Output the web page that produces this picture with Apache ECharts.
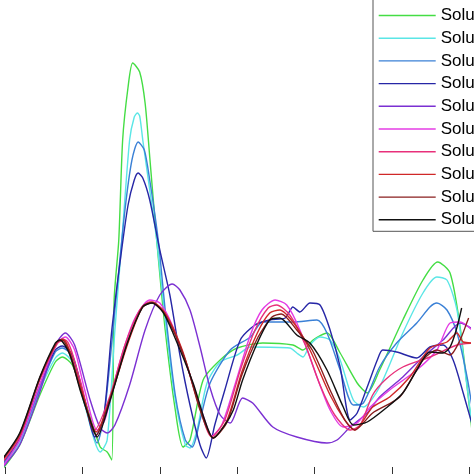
<!DOCTYPE html>
<html>
<head>
<meta charset="utf-8">
<script src="https://cdn.jsdelivr.net/npm/echarts@6/dist/echarts.min.js"></script>
<style>html,body{margin:0;padding:0;background:#fff}#c{width:474px;height:474px}</style>
</head>
<body>
<div id="c"></div>
<script>
const seriesNames = ["Solution 1","Solution 2","Solution 3","Solution 4","Solution 5","Solution 6","Solution 7","Solution 8","Solution 9","Solution 10"];
const seriesColors = ["#44dd44","#5ae6e6","#3a80d6","#2626a6","#7b30d2","#e43ce4","#e8307a","#d02828","#8a1e1e","#111111"];
const xTicks = [0,1,2,3,4,5,6];

const sol1 = [[-0.06,0.02],[0.19,0.29],[0.45,0.79],[0.65,1.12],[0.74,1.17],[0.87,1.09],[1.03,0.74],[1.23,0.27],[1.32,0.22],[1.38,0.14],[1.41,1.74],[1.47,2.34],[1.52,3.34],[1.59,3.87],[1.65,4.11],[1.74,4.02],[1.81,3.71],[1.87,3.17],[1.96,2.34],[2.07,1.44],[2.20,0.64],[2.30,0.27],[2.39,0.34],[2.56,0.94],[2.78,1.14],[3.00,1.26],[3.33,1.31],[3.72,1.29],[3.85,1.24],[3.98,1.34],[4.16,1.41],[4.33,1.21],[4.55,0.91],[4.68,0.81],[4.84,1.04],[5.14,1.54],[5.40,1.94],[5.59,2.12],[5.75,2.01],[5.88,1.47],[5.98,0.81],[6.06,0.24]];
const sol2 = [[-0.06,0.04],[0.19,0.31],[0.45,0.84],[0.65,1.16],[0.74,1.21],[0.87,1.12],[1.03,0.69],[1.23,0.22],[1.32,0.34],[1.42,1.44],[1.51,2.34],[1.61,3.34],[1.67,3.57],[1.71,3.61],[1.74,3.58],[1.78,3.34],[1.87,2.84],[1.96,2.34],[2.07,1.54],[2.20,0.74],[2.33,0.29],[2.39,0.26],[2.48,0.44],[2.61,0.91],[2.78,1.12],[3.00,1.19],[3.17,1.27],[3.68,1.26],[3.77,1.21],[3.85,1.17],[3.94,1.29],[4.07,1.37],[4.20,1.34],[4.33,1.14],[4.50,0.74],[4.63,0.67],[4.84,0.87],[5.14,1.41],[5.40,1.81],[5.58,1.97],[5.71,1.94],[5.84,1.64],[5.97,0.87],[6.06,0.34]];
const sol3 = [[-0.06,0.06],[0.19,0.34],[0.45,0.86],[0.65,1.22],[0.74,1.26],[0.87,1.18],[1.03,0.74],[1.19,0.31],[1.29,0.64],[1.42,1.64],[1.55,2.64],[1.64,3.14],[1.72,3.32],[1.80,3.24],[1.87,2.94],[1.98,2.34],[2.07,1.64],[2.20,0.79],[2.33,0.34],[2.42,0.27],[2.52,0.54],[2.65,0.91],[2.91,1.24],[3.17,1.37],[3.33,1.52],[3.72,1.52],[4.03,1.54],[4.16,1.41],[4.33,1.04],[4.50,0.69],[4.63,0.71],[4.84,1.07],[5.06,1.31],[5.32,1.51],[5.49,1.67],[5.58,1.71],[5.71,1.64],[5.84,1.41],[5.97,0.97],[6.06,0.54]];
const sol4 = [[-0.06,0.08],[0.19,0.36],[0.45,0.89],[0.65,1.24],[0.74,1.28],[0.87,1.19],[1.03,0.74],[1.16,0.37],[1.27,0.54],[1.38,1.44],[1.49,2.14],[1.59,2.69],[1.67,2.94],[1.72,3.01],[1.78,2.96],[1.87,2.74],[2.00,2.24],[2.13,1.79],[2.26,1.19],[2.39,0.69],[2.52,0.29],[2.60,0.16],[2.71,0.49],[2.84,0.84],[3.04,1.34],[3.23,1.49],[3.42,1.54],[3.62,1.56],[3.72,1.67],[3.81,1.62],[3.94,1.71],[4.07,1.69],[4.20,1.44],[4.33,1.07],[4.46,0.54],[4.55,0.61],[4.68,0.87],[4.81,1.14],[4.88,1.24],[5.06,1.22],[5.32,1.16],[5.49,1.27],[5.66,1.29],[5.79,1.14],[5.92,0.81],[6.03,0.51],[6.06,0.44]];
const sol5 = [[-0.06,0.04],[0.19,0.29],[0.45,0.82],[0.65,1.29],[0.78,1.41],[0.90,1.29],[1.10,0.74],[1.23,0.46],[1.32,0.41],[1.42,0.49],[1.61,0.89],[1.81,1.44],[2.00,1.79],[2.16,1.90],[2.26,1.84],[2.39,1.64],[2.52,1.27],[2.65,0.86],[2.78,0.59],[2.91,0.51],[3.07,0.76],[3.20,0.71],[3.46,0.47],[3.77,0.37],[4.16,0.31],[4.29,0.34],[4.46,0.47],[4.68,0.61],[4.84,0.77],[5.14,0.97],[5.40,1.17],[5.66,1.34],[5.88,1.51],[6.06,1.44]];
const sol6 = [[-0.06,0.04],[0.19,0.34],[0.45,0.89],[0.65,1.29],[0.78,1.37],[0.90,1.24],[1.03,0.84],[1.19,0.44],[1.29,0.54],[1.49,1.14],[1.68,1.56],[1.87,1.74],[2.00,1.71],[2.16,1.49],[2.39,0.99],[2.58,0.54],[2.67,0.38],[2.80,0.49],[2.97,0.89],[3.17,1.39],[3.32,1.64],[3.49,1.74],[3.64,1.69],[3.81,1.44],[4.03,0.97],[4.20,0.64],[4.37,0.47],[4.55,0.51],[4.72,0.67],[4.97,0.84],[5.32,1.04],[5.58,1.24],[5.75,1.51],[5.88,1.52],[6.06,1.42]];
const sol7 = [[-0.06,0.09],[0.19,0.37],[0.45,0.94],[0.68,1.31],[0.78,1.34],[0.97,0.94],[1.16,0.44],[1.36,0.79],[1.55,1.29],[1.74,1.64],[1.87,1.72],[2.04,1.64],[2.26,1.29],[2.49,0.74],[2.67,0.37],[2.84,0.54],[3.04,1.04],[3.23,1.44],[3.40,1.66],[3.51,1.69],[3.68,1.59],[3.88,1.29],[4.07,0.89],[4.26,0.59],[4.46,0.44],[4.59,0.49],[4.75,0.79],[4.91,0.94],[5.14,1.07],[5.49,1.17],[5.84,1.29],[6.06,1.31]];
const sol8 = [[-0.06,0.11],[0.19,0.39],[0.45,0.96],[0.67,1.32],[0.75,1.35],[0.97,0.89],[1.18,0.42],[1.36,0.76],[1.58,1.29],[1.77,1.66],[1.90,1.72],[2.07,1.61],[2.29,1.24],[2.52,0.66],[2.69,0.36],[2.87,0.54],[3.06,1.02],[3.26,1.41],[3.42,1.61],[3.55,1.64],[3.75,1.49],[3.94,1.24],[4.20,0.79],[4.39,0.54],[4.52,0.44],[4.75,0.67],[4.97,0.77],[5.23,0.97],[5.49,1.26],[5.71,1.32],[5.84,1.41],[5.92,1.32],[6.06,1.31]];
const sol9 = [[-0.06,0.12],[0.19,0.40],[0.45,0.96],[0.67,1.32],[0.74,1.34],[0.97,0.86],[1.18,0.39],[1.36,0.76],[1.58,1.31],[1.78,1.68],[1.90,1.71],[2.07,1.59],[2.33,1.14],[2.52,0.64],[2.69,0.36],[2.87,0.52],[3.06,0.99],[3.27,1.37],[3.45,1.57],[3.57,1.60],[3.77,1.44],[3.97,1.24],[4.20,0.84],[4.39,0.54],[4.52,0.44],[4.75,0.61],[5.10,0.77],[5.40,1.14],[5.58,1.24],[5.75,1.19],[5.88,1.34],[5.97,1.52],[5.99,1.56]];
const sol10 = [[-0.06,0.12],[0.19,0.41],[0.45,0.97],[0.65,1.31],[0.71,1.34],[0.84,1.19],[0.97,0.84],[1.10,0.54],[1.19,0.37],[1.36,0.74],[1.58,1.31],[1.78,1.67],[1.90,1.71],[2.04,1.62],[2.17,1.41],[2.43,0.91],[2.58,0.54],[2.69,0.36],[2.84,0.49],[2.95,0.64],[3.07,0.94],[3.26,1.31],[3.42,1.54],[3.55,1.56],[3.77,1.39],[3.94,1.31],[4.16,1.04],[4.37,0.67],[4.50,0.49],[4.68,0.52],[4.94,0.67],[5.14,0.81],[5.32,1.04],[5.49,1.22],[5.66,1.21],[5.75,1.27],[5.83,1.44],[5.90,1.66]];

const allData = [sol1,sol2,sol3,sol4,sol5,sol6,sol7,sol8,sol9,sol10];

const chart = echarts.init(document.getElementById('c'), null, {renderer:'canvas'});
chart.setOption({
  animation: false,
  backgroundColor: '#ffffff',
  grid: {left: 5, right: 4.6, top: 0, bottom: 0, containLabel: false},
  xAxis: {
    type: 'value', min: xTicks[0], max: xTicks[xTicks.length-1], interval: 1,
    axisLine: {show: false},
    axisTick: {show: true, inside: true, length: 7, lineStyle: {color: '#333', width: 1}},
    axisLabel: {show: false},
    splitLine: {show: false}
  },
  yAxis: {type: 'value', min: 0, max: 4.74, show: false, splitLine: {show: false}},
  legend: {
    orient: 'vertical', left: 373, top: -2,
    padding: [9, 60, 3, 5],
    itemWidth: 57, itemHeight: 14, itemGap: 5.7,
    backgroundColor: '#ffffff', borderColor: '#555', borderWidth: 1, borderRadius: 0,
    itemStyle: {opacity: 0, borderWidth: 0},
    lineStyle: {width: 1.4},
    textStyle: {fontFamily: 'Liberation Sans, Arial, sans-serif', fontSize: 17, color: '#000'},
    data: seriesNames
  },
  series: allData.map((d, i) => ({
    name: seriesNames[i], type: 'line', data: d, symbol: 'none', smooth: 0.25,
    clip: false,
    lineStyle: {width: 1.4, color: seriesColors[i]},
    itemStyle: {color: seriesColors[i]}
  }))
});
</script>
</body>
</html>
